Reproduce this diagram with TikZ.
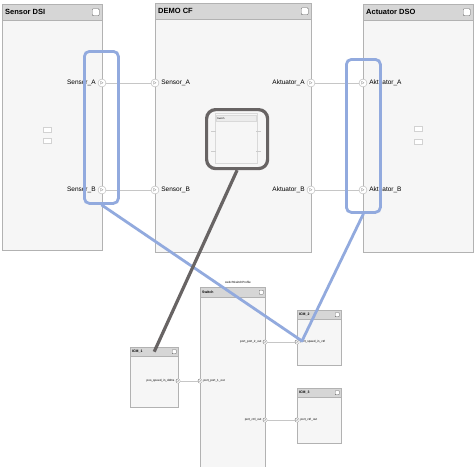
\documentclass[tikz,border=0pt]{standalone}
\usepackage{fontspec}
\setmainfont{Liberation Sans}
\usetikzlibrary{positioning}

\definecolor{selblue}{RGB}{146,170,222}
\definecolor{seldark}{RGB}{104,100,100}
\definecolor{boxgray}{RGB}{246,246,246}
\definecolor{headgray}{RGB}{214,214,214}

\tikzset{
  block/.style={draw=gray!60, fill=boxgray, anchor=north west, inner sep=0pt},
  head/.style={draw=gray!60, fill=headgray, anchor=north west, inner sep=0pt},
  title/.style={anchor=west, inner sep=0pt, font=\bfseries\fontsize{7.5}{8}\selectfont},
  smalltitle/.style={anchor=west, inner sep=0pt, font=\bfseries\fontsize{3.5}{4}\selectfont},
  tick/.style={draw=gray!80!black, fill=white, minimum size=7pt, inner sep=0pt, rounded corners=1pt},
  smalltick/.style={tick, minimum size=4pt, rounded corners=0.5pt},
  port/.style={circle, draw=gray!60, fill=white, inner sep=0pt, minimum size=8pt,
    font=\fontsize{5}{5}\selectfont, text=gray!70!black},
  smallport/.style={port, minimum size=3.5pt, font=\fontsize{2.5}{2.5}\selectfont},
  plabel/.style={inner sep=1pt, font=\fontsize{6.5}{7}\selectfont},
  smalllabel/.style={inner sep=1pt, font=\fontsize{3}{3.5}\selectfont},
  wire/.style={draw=gray!45, line width=0.6pt},
  smallwire/.style={draw=gray!45, line width=0.4pt},
  selbox/.style={draw=selblue, line width=2.8pt, rounded corners=5pt, inner sep=0pt},
  seldarkbox/.style={draw=seldark, line width=3.2pt, rounded corners=9pt, inner sep=0pt},
  icon/.style={draw=gray!35, fill=white, minimum width=8pt, minimum height=5pt, inner sep=0pt}
}

\begin{document}
\begin{tikzpicture}[x=1pt, y=-1pt]
  \useasboundingbox (0,0) rectangle (474,466);
  \fill[white] (0,0) rectangle (474,466);

  \def\ya{83}   % upper port row
  \def\yb{190}  % lower port row

  % the three top components
  \node[block, minimum width=100, minimum height=246] (sdsi) at (2,4) {};
  \node[head, minimum width=100, minimum height=16] (sdsih) at (sdsi.north west) {};
  \node[title, right=3pt of sdsih.west] (sdsit) {Sensor DSI};
  \node[tick, left=3pt of sdsih.east] (sdsic) {};

  \node[block, minimum width=156, minimum height=249] (demo) at (155,3) {};
  \node[head, minimum width=156, minimum height=16] (demoh) at (demo.north west) {};
  \node[title, right=3pt of demoh.west] (demot) {DEMO CF};
  \node[tick, left=3pt of demoh.east] (democ) {};

  \node[block, minimum width=110, minimum height=248] (adso) at (363,4) {};
  \node[head, minimum width=110, minimum height=16] (adsoh) at (adso.north west) {};
  \node[title, right=3pt of adsoh.west] (adsot) {Actuator DSO};
  \node[tick, left=3pt of adsoh.east] (adsoc) {};

  % tiny content icons
  \node[icon] (sdsii1) at (47,130) {};
  \node[icon] (sdsii2) at (47,141) {};
  \node[icon] (adsoi1) at (418,129) {};
  \node[icon] (adsoi2) at (418,142) {};

  % ports and their labels
  \node[port] (sa) at (102,\ya) {$\triangleright$};
  \node[plabel, left=1pt of sa] (sal) {Sensor\_A};
  \node[port] (sb) at (102,\yb) {$\triangleright$};
  \node[plabel, left=1pt of sb] (sbl) {Sensor\_B};

  \node[port] (dsa) at (155,\ya) {$\triangleright$};
  \node[plabel, right=1pt of dsa] (dsal) {Sensor\_A};
  \node[port] (dsb) at (155,\yb) {$\triangleright$};
  \node[plabel, right=1pt of dsb] (dsbl) {Sensor\_B};
  \node[port] (daa) at (311,\ya) {$\triangleright$};
  \node[plabel, left=1pt of daa] (daal) {Aktuator\_A};
  \node[port] (dab) at (311,\yb) {$\triangleright$};
  \node[plabel, left=1pt of dab] (dabl) {Aktuator\_B};

  \node[port] (aa) at (363,\ya) {$\triangleright$};
  \node[plabel, right=1pt of aa] (aal) {Aktuator\_A};
  \node[port] (ab) at (363,\yb) {$\triangleright$};
  \node[plabel, right=1pt of ab] (abl) {Aktuator\_B};

  \draw[wire] (sa) -- (dsa);
  \draw[wire] (sb) -- (dsb);
  \draw[wire] (daa) -- (aa);
  \draw[wire] (dab) -- (ab);

  % inner component of DEMO CF
  \node[block, draw=gray!30, minimum width=42, minimum height=50] (inner) at (215,113) {};
  \node[head, draw=gray!30, fill=gray!15, minimum width=40, minimum height=6] (innerh) at (216,115) {};
  \node[smalltitle, font=\fontsize{2.5}{3}\selectfont, right=1pt of innerh.west] (innert) {Switch};
  \draw[gray!40] (211,131) -- (216,131) (211,151) -- (216,151);
  \draw[gray!40] (256,131) -- (261,131) (256,151) -- (261,151);

  % bottom components
  \node[smalllabel] (swtop) at (238,282) {switchSwitchProfile};
  \node[block, minimum width=65, minimum height=185] (sw) at (200,287) {};
  \node[head, minimum width=65, minimum height=10] (swh) at (sw.north west) {};
  \node[smalltitle, right=2pt of swh.west] (swt) {Switch};
  \node[smalltick, left=2pt of swh.east] (swc) {};

  \node[block, minimum width=48, minimum height=60] (icma) at (130,347) {};
  \node[head, minimum width=48, minimum height=9] (icmah) at (icma.north west) {};
  \node[smalltitle, right=2pt of icmah.west] (icmat) {ICM\_1};
  \node[smalltick, left=2pt of icmah.east] (icmac) {};

  \node[block, minimum width=44, minimum height=55] (icmb) at (297,310) {};
  \node[head, minimum width=44, minimum height=9] (icmbh) at (icmb.north west) {};
  \node[smalltitle, right=2pt of icmbh.west] (icmbt) {ICM\_2};
  \node[smalltick, left=2pt of icmbh.east] (icmbc) {};

  \node[block, minimum width=44, minimum height=55] (icmc) at (297,388) {};
  \node[head, minimum width=44, minimum height=9] (icmch) at (icmc.north west) {};
  \node[smalltitle, right=2pt of icmch.west] (icmct) {ICM\_3};
  \node[smalltick, left=2pt of icmch.east] (icmcc) {};

  % ports of the bottom components
  \node[smallport] (pa) at (178,381) {$\triangleright$};
  \node[smalllabel, left=0pt of pa] (pal) {pos\_speed\_in\_ddms};
  \node[smallport] (pb) at (200,381) {$\triangleright$};
  \node[smalllabel, right=0pt of pb] (pbl) {port\_port\_1\_out};
  \node[smallport] (pc) at (265,342) {$\triangleright$};
  \node[smalllabel, left=0pt of pc] (pcl) {port\_port\_2\_out};
  \node[smallport] (pd) at (297,342) {$\triangleright$};
  \node[smalllabel, right=0pt of pd] (pdl) {port\_speed\_in\_ctrl};
  \node[smallport] (pe) at (265,420) {$\triangleright$};
  \node[smalllabel, left=0pt of pe] (pel) {port\_ctrl\_out};
  \node[smallport] (pf) at (297,420) {$\triangleright$};
  \node[smalllabel, right=0pt of pf] (pfl) {port\_ctrl\_out};

  \draw[smallwire] (pa) -- (pb);
  \draw[smallwire] (pc) -- (pd);
  \draw[smallwire] (pe) -- (pf);

  % selection marks
  \node[selbox, minimum width=34, minimum height=152, anchor=north west] (selsen) at (83,50) {};
  \node[selbox, minimum width=34, minimum height=153, anchor=north west] (selact) at (345,58) {};
  \node[seldarkbox, minimum width=61, minimum height=59, anchor=north west] (selin) at (205,108) {};
  \coordinate (meet) at (302,341);

  \draw[selblue, line width=2.8pt, line join=round] (selsen.south) -- (meet) -- (selact.south);
  \draw[seldark, line width=3.2pt] (selin.south) -- (icmah.center);

\end{tikzpicture}
\end{document}
